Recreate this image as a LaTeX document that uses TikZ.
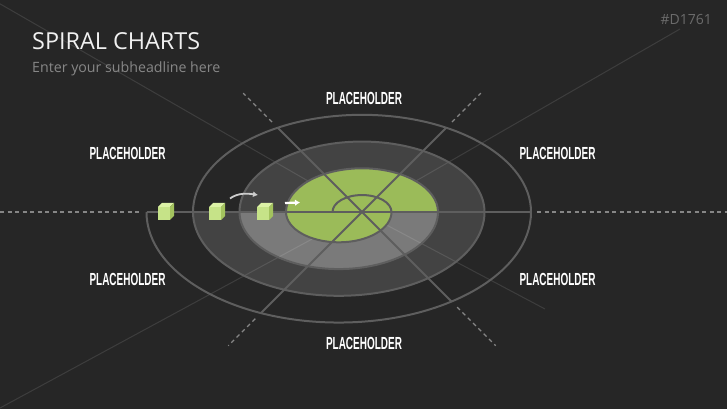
\documentclass[tikz,border=0pt]{standalone}
\usepackage{fontspec}
\setmainfont{Open Sans}
\newfontfamily\labelfont{Liberation Sans}
\usetikzlibrary{calc,arrows.meta}

\definecolor{bgdark}{HTML}{262626}
\definecolor{bandgray}{HTML}{434343}
\definecolor{lightband}{HTML}{7A7A7A}
\definecolor{spiralgreen}{HTML}{9BBB59}
\definecolor{strokegray}{HTML}{5E5E5E}
\definecolor{dashgray}{HTML}{868686}
\definecolor{cubefront}{HTML}{C6E388}
\definecolor{cubetop}{HTML}{DCF2A6}
\definecolor{cubeside}{HTML}{A3C35E}

\tikzset{
	spiral/.style={draw=strokegray,line width=2pt},
	thinray/.style={draw=white,draw opacity=0.11,line width=1pt},
	dashray/.style={draw=dashgray,line width=1.3pt,dash pattern=on 4pt off 3.5pt},
	phlabel/.style={text=white,inner sep=0pt,font=\labelfont\bfseries\fontsize{17.5}{18}\selectfont},
	greencube/.pic={
		\fill[cubefront] (0,0) rectangle (12,13);
		\fill[cubetop] (0,13)--(4,17)--(16,17)--(12,13)--cycle;
		\fill[cubeside] (12,0)--(16,4)--(16,17)--(12,13)--cycle;
	}
}
\newcommand{\narrowtext}[1]{\scalebox{0.57}[1]{#1}}

\begin{document}
\begin{tikzpicture}[x=1pt,y=1pt]
				\useasboundingbox (0,0) rectangle (727,409);
				\fill[bgdark] (0,0) rectangle (727,409);
				\clip (0,0) rectangle (727,409);
				\coordinate (ctr) at (362,197);
				% filled bands of the spiral
				\fill[bandgray] (239.5,197) arc[start angle=180,end angle=0,x radius=122.5,y radius=70.44]
					arc[start angle=0,end angle=-180,x radius=145.75,y radius=83.81] -- cycle;
				\fill[lightband] (438,197) arc[start angle=0,end angle=-180,x radius=99.25,y radius=57.07] -- cycle;
				% thin rays
				\draw[thinray] (ctr) -- (-10,410.9);
				\draw[thinray] (ctr) -- (680,380);
				\draw[thinray] (ctr) -- (0,1);
				\draw[thinray] (ctr) -- (545,100);
				\fill[spiralgreen] (286,197) arc[start angle=180,end angle=0,x radius=76,y radius=43.7]
					-- (391.5,197) arc[start angle=0,end angle=-180,x radius=52.75,y radius=30.33] -- cycle;
				% the spiral line
				\draw[spiral] (332.5,197) arc[start angle=180,end angle=0,x radius=29.5,y radius=16.96]
					arc[start angle=0,end angle=-180,x radius=52.75,y radius=30.33]
					arc[start angle=180,end angle=0,x radius=76,y radius=43.7]
					arc[start angle=0,end angle=-180,x radius=99.25,y radius=57.07]
					arc[start angle=180,end angle=0,x radius=122.5,y radius=70.44]
					arc[start angle=0,end angle=-180,x radius=145.75,y radius=83.81]
					arc[start angle=180,end angle=0,x radius=169,y radius=97.18]
					arc[start angle=0,end angle=-180,x radius=192.25,y radius=110.54] coordinate (spiralend);
				\coordinate (axisR) at (531,197);
				\draw[spiral] (spiralend) -- (axisR);
				\draw[dashray] (0,197) -- (140,197);
				\draw[dashray] (537,197) -- (727,197);
				% dividers
				\coordinate (ulEnd) at (277.7,281.3);
				\coordinate (urEnd) at (446.3,281.3);
				\coordinate (llEnd) at (261,95.95);
				\coordinate (lrEnd) at (451.5,107.5);
				\coordinate (ulTip) at ($(ctr)+(135:168)$);
				\coordinate (urTip) at ($(ctr)+(45:168)$);
				\coordinate (llTip) at ($(ctr)+(225:189)$);
				\coordinate (lrTip) at ($(ctr)+(-45:189)$);
				\foreach \e/\t in {ulEnd/ulTip,urEnd/urTip,llEnd/llTip,lrEnd/lrTip}{
					\draw[spiral] (ctr) -- (\e);
					\draw[dashray] ($(\e)!8pt!(\t)$) -- (\t);
				}
				% cubes and arrows
				\pic at (158,189) {greencube};
				\pic at (209,189) {greencube};
				\pic at (257,189) {greencube};
				\coordinate (arrAfrom) at (230,210.5);
				\coordinate (arrAto) at (258,214);
				\draw[draw=white!80!black,line width=1.8pt,-{Latex[length=5pt,width=6pt]}] (arrAfrom) .. controls (238,216.5) and (248,215.5) .. (arrAto);
				\coordinate (arrBfrom) at (285,206);
				\coordinate (arrBto) at (300,206.5);
				\draw[draw=white,line width=2.2pt,-{Latex[length=5pt,width=6.5pt]}] (arrBfrom) -- (arrBto);
				% texts
				\node[anchor=base west,inner sep=0pt,text=white!94!black,font=\fontsize{23.4}{25}\selectfont] (title) at (32,359) {SPIRAL CHARTS};
				\node[anchor=base west,inner sep=0pt,text=white!53!black,font=\fontsize{14.2}{16}\selectfont] (subtitle) at (32,336.5) {Enter your subheadline here};
				\node[anchor=base east,inner sep=0pt,text=white!42!black,font=\fontsize{14}{16}\selectfont] (code) at (712,384) {\#D1761};
				\node[phlabel] (phTop) at (364,311) {\narrowtext{PLACEHOLDER}};
				\node[phlabel] (phUL) at (127.5,256) {\narrowtext{PLACEHOLDER}};
				\node[phlabel] (phUR) at (557.5,256) {\narrowtext{PLACEHOLDER}};
				\node[phlabel] (phLL) at (127.5,130) {\narrowtext{PLACEHOLDER}};
				\node[phlabel] (phLR) at (557.5,130) {\narrowtext{PLACEHOLDER}};
				\node[phlabel] (phBot) at (364,65.5) {\narrowtext{PLACEHOLDER}};
			\end{tikzpicture}
\end{document}
